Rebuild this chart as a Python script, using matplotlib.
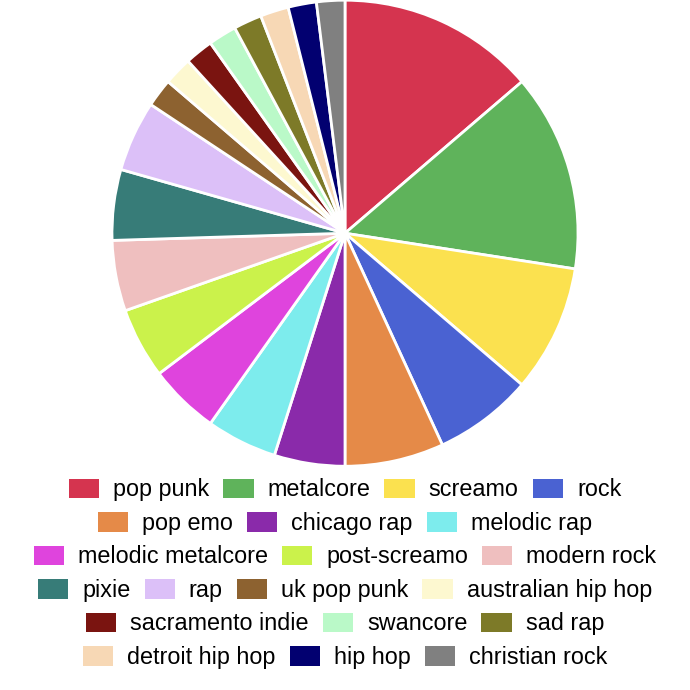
import matplotlib.pyplot as plt

# genre counts
genres = ['pop punk', 'metalcore', 'screamo', 'rock', 'pop emo', 'chicago rap',
          'melodic rap', 'melodic metalcore', 'post-screamo', 'modern rock',
          'pixie', 'rap', 'uk pop punk', 'australian hip hop', 'sacramento indie',
          'swancore', 'sad rap', 'detroit hip hop', 'hip hop', 'christian rock']
counts = [14, 14, 9, 7, 7, 5, 5, 5, 5, 5, 5, 5, 2, 2, 2, 2, 2, 2, 2, 2]
colors = ['#d5344f', '#5fb35b', '#fbe14f', '#4a62d2', '#e58a48', '#8a2aaa',
          '#7deced', '#df44dd', '#cbf24b', '#efbfbf', '#377c78', '#dcc0f8',
          '#8d6230', '#fdf8d0', '#7a1410', '#baf9c8', '#7d7a28', '#f7d8b5',
          '#020070', '#808080']

# legend rows as in the original flow layout
row_sizes = [4, 3, 3, 4, 3, 3]
row_y = [0.290, 0.241, 0.193, 0.144, 0.096, 0.047]

plt.rcParams['font.family'] = ['Liberation Sans', 'DejaVu Sans']

fig = plt.figure(figsize=(6.9, 6.9), dpi=100)
ax = fig.add_axes([0.164, 0.326, 0.672, 0.672])

wedges, _ = ax.pie(counts, colors=colors, startangle=90, counterclock=False,
                   wedgeprops=dict(edgecolor='white', linewidth=2))
ax.set_xlim(-0.995, 0.995)
ax.set_ylim(-0.995, 0.995)
ax.set_aspect('equal')

# one legend per row, centered
start = 0
for n, y in zip(row_sizes, row_y):
    leg = fig.legend(wedges[start:start + n], genres[start:start + n],
                     loc='center', bbox_to_anchor=(0.5, y), ncol=n,
                     frameon=False, fontsize=16.8, handlelength=1.3,
                     handleheight=0.9, handletextpad=0.6, columnspacing=0.6,
                     borderpad=0, borderaxespad=0)
    for h in leg.legend_handles:
        h.set_linewidth(0)
    start += n

fig.savefig('out.png', dpi=100)
